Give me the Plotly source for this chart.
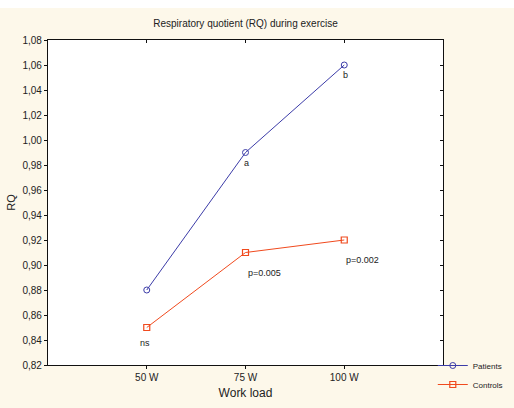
import plotly.graph_objects as go

# work load levels and RQ means
workload = ["50 W", "75 W", "100 W"]
patients = [0.88, 0.99, 1.06]
controls = [0.85, 0.91, 0.92]

# significance labels: (category, y, text)
patient_marks = [("75 W", 0.9816, "a"), ("100 W", 1.0522, "b")]
control_marks = [("50 W", 0.8378, "ns"), ("75 W", 0.8939, "p=0.005"), ("100 W", 0.9040, "p=0.002")]

BLUE = "#3c3ca8"
RED = "#f04a1e"
CREAM = "#fdf8ea"
FONT = "Liberation Sans, Arial, sans-serif"

fig = go.Figure()

fig.add_trace(
    go.Scatter(
        x=workload,
        y=patients,
        name="Patients",
        mode="lines+markers",
        line=dict(color=BLUE, width=1),
        marker=dict(symbol="circle-open", size=6, color=BLUE, line=dict(width=1)),
    )
)
fig.add_trace(
    go.Scatter(
        x=workload,
        y=controls,
        name="Controls",
        mode="lines+markers",
        line=dict(color=RED, width=1),
        marker=dict(symbol="square-open", size=6, color=RED, line=dict(width=1.2)),
    )
)

# invisible trace to bring up the mirrored axes (inward ticks on top/right)
fig.add_trace(
    go.Scatter(x=workload, y=patients, xaxis="x2", yaxis="y2",
               mode="markers", marker=dict(opacity=0), showlegend=False,
               hoverinfo="skip")
)

for cat, y, txt in patient_marks:
    fig.add_annotation(x=cat, y=y, text=txt, showarrow=False, xshift=1,
                       font=dict(size=9, color="#222222", family=FONT))
for cat, y, txt in control_marks:
    anchor = "center" if txt == "ns" else "left"
    fig.add_annotation(x=cat, y=y, text=txt, showarrow=False, xanchor=anchor,
                       xshift=-2 if txt == "ns" else 0,
                       font=dict(size=9, color="#222222", family=FONT))

axis_common = dict(showline=True, linecolor="#111111", linewidth=1.2,
                   showgrid=False, zeroline=False, ticklen=3, tickwidth=1,
                   tickcolor="#111111", automargin=False)

# page keeps an 8px white band on top only (body margin)
fig.update_layout(
    width=514,
    height=400,
    margin=dict(l=48, r=71, t=32, b=43, autoexpand=False),
    paper_bgcolor=CREAM,
    plot_bgcolor="white",
    separators=", ",
    font=dict(family=FONT, size=10, color="#222222"),
    title=dict(text="Respiratory quotient (RQ) during exercise", x=0.5,
               xref="paper", yref="container", y=1 - 15 / 400,
               yanchor="middle", font=dict(size=10, color="#222222")),
    xaxis=dict(type="category", range=[-1, 3], ticks="outside",
               title=dict(text="Work load", font=dict(size=12), standoff=6),
               tickfont=dict(size=10), **axis_common),
    yaxis=dict(range=[0.82, 1.08], dtick=0.02, tickformat=".2f",
               ticks="outside", tickfont=dict(size=10),
               title=dict(text="RQ", font=dict(size=11), standoff=4),
               **axis_common),
    xaxis2=dict(type="category", range=[-1, 3], overlaying="x", side="top",
                ticks="inside", showticklabels=False, **axis_common),
    yaxis2=dict(range=[0.82, 1.08], dtick=0.02, overlaying="y", side="right",
                ticks="inside", showticklabels=False, **axis_common),
    legend=dict(xref="container", yref="container", x=0.842, y=0.1425,
                xanchor="left", yanchor="top",
                bgcolor="rgba(0,0,0,0)", itemwidth=30, tracegroupgap=0,
                font=dict(size=8, color="#222222")),
    showlegend=True,
)

fig.write_html("out.html", post_script="document.body.style.margin='8px 0 0 0';")
